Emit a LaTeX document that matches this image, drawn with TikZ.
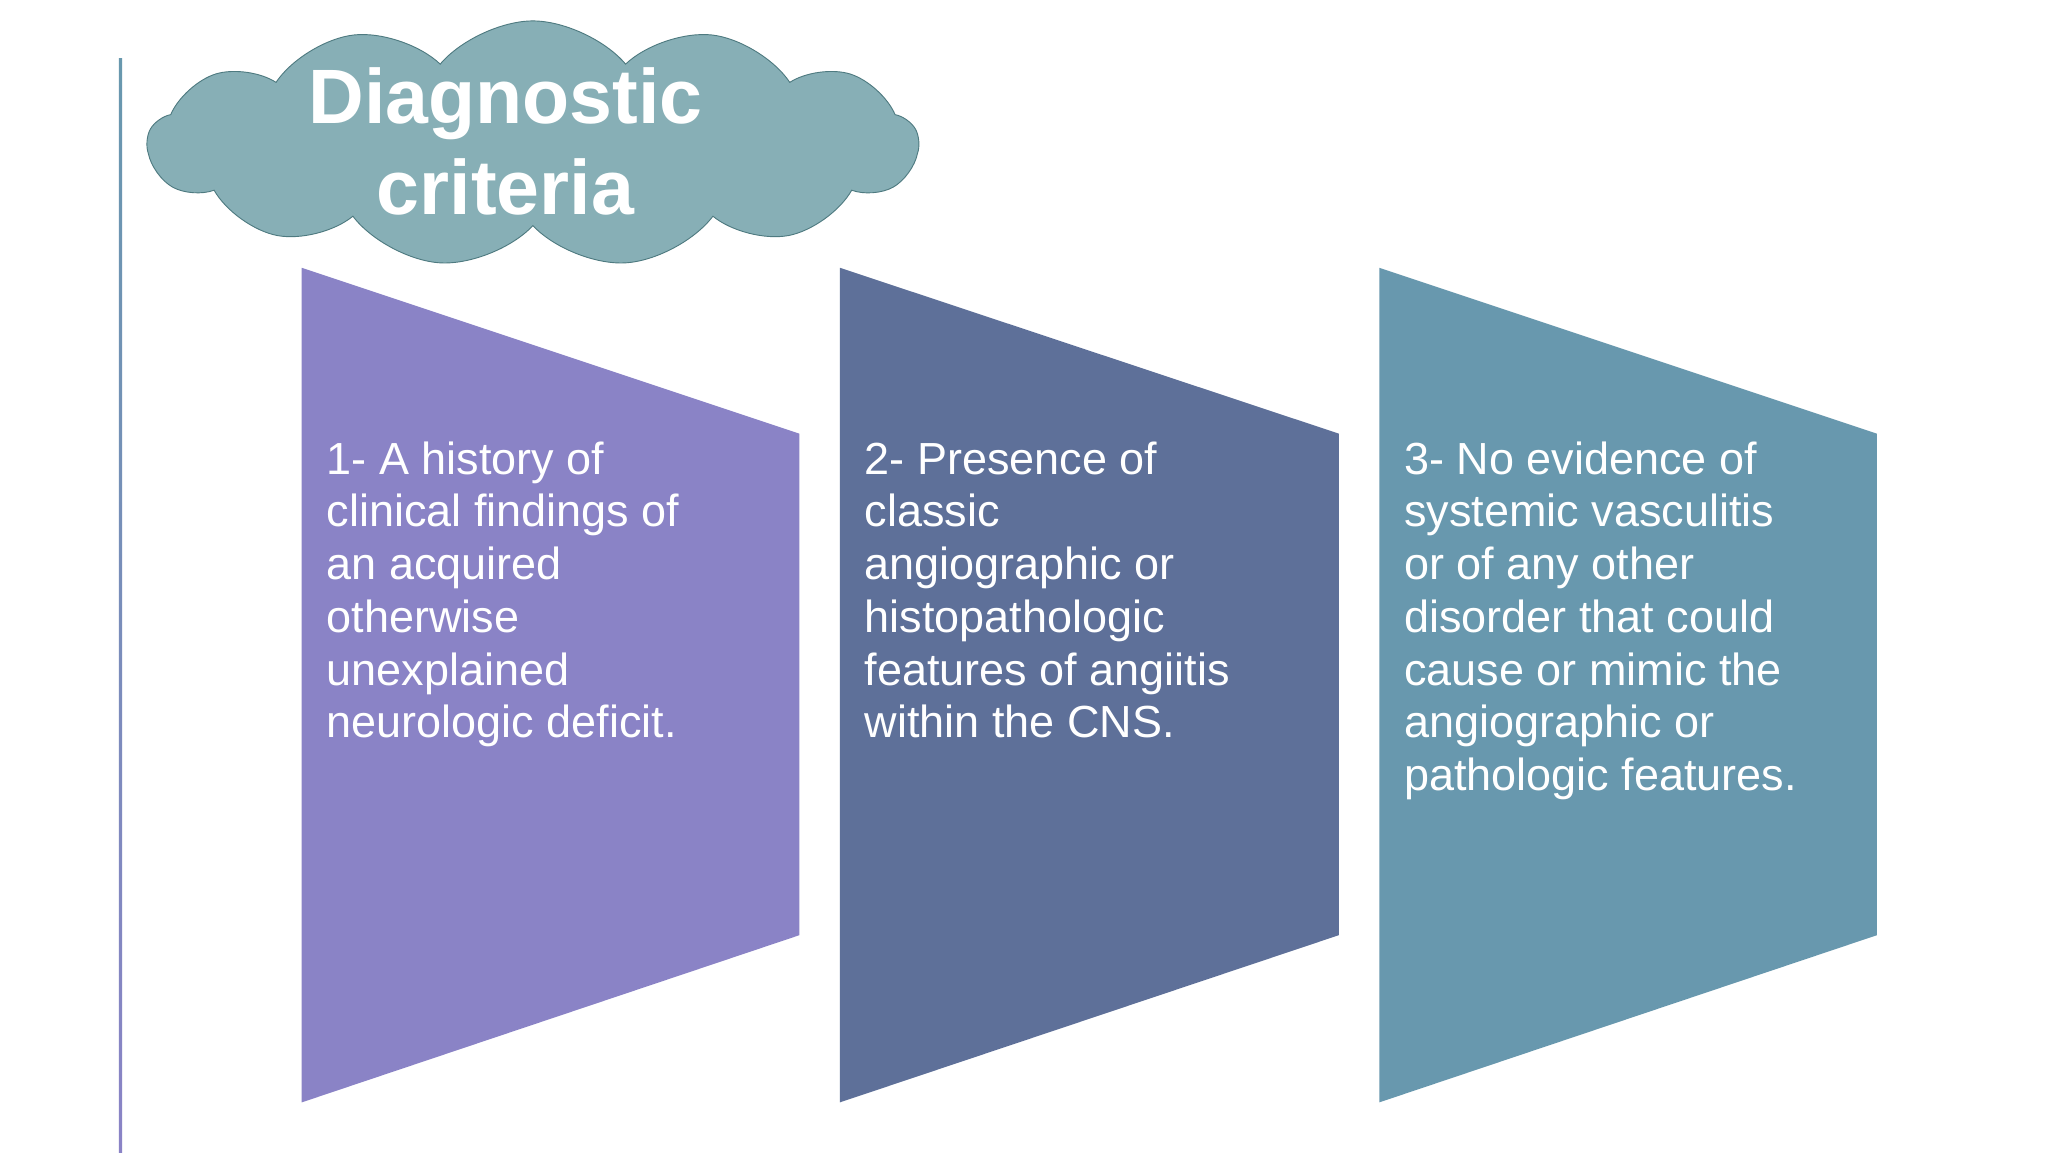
\documentclass[tikz,border=0pt]{standalone}
\usepackage{fontspec}
\setmainfont{Liberation Sans}
\usetikzlibrary{shapes.symbols}
\definecolor{pA}{HTML}{8A83C6}
\definecolor{pB}{HTML}{5E7099}
\definecolor{pC}{HTML}{6898AE}
\definecolor{cl}{HTML}{87AFB6}
\definecolor{cld}{HTML}{4E7A80}
\begin{document}
\begin{tikzpicture}[x=0.05cm,y=-0.05cm,
  txt/.style={anchor=north west,text=white,align=left,inner sep=0pt,font=\fontsize{49}{57.4}\selectfont}]
\useasboundingbox (0,0) rectangle (1568,882);
\fill[white] (0,0) rectangle (1568,882);
\shade[top color=pC,bottom color=pA] (91,45) rectangle (93.5,882);
\node[cloud,cloud puffs=13,cloud puff arc=100,aspect=3.2,draw=cld,fill=cl,line width=1pt,minimum width=29.5cm,minimum height=9.4cm] (cloud) at (408,110) {};
\node[text=white,align=center,font=\fontsize{84}{99}\selectfont\bfseries] (title) at (387,108) {Diagnostic\\criteria};
\fill[pA] (231,205) -- (612,332) -- (612,716) -- (231,844) -- cycle;
\fill[pB] (643,205) -- (1025,332) -- (1025,716) -- (643,844) -- cycle;
\fill[pC] (1056,205) -- (1437,332) -- (1437,716) -- (1056,844) -- cycle;
\node[txt] (t1) at (250,338) {1- A history of\\clinical findings of\\an acquired\\otherwise\\unexplained\\neurologic deficit.};
\node[txt] (t2) at (662,338) {2- Presence of\\classic\\angiographic or\\histopathologic\\features of angiitis\\within the CNS.};
\node[txt] (t3) at (1075,338) {3- No evidence of\\systemic vasculitis\\or of any other\\disorder that could\\cause or mimic the\\angiographic or\\pathologic features.};
\end{tikzpicture}
\end{document}
